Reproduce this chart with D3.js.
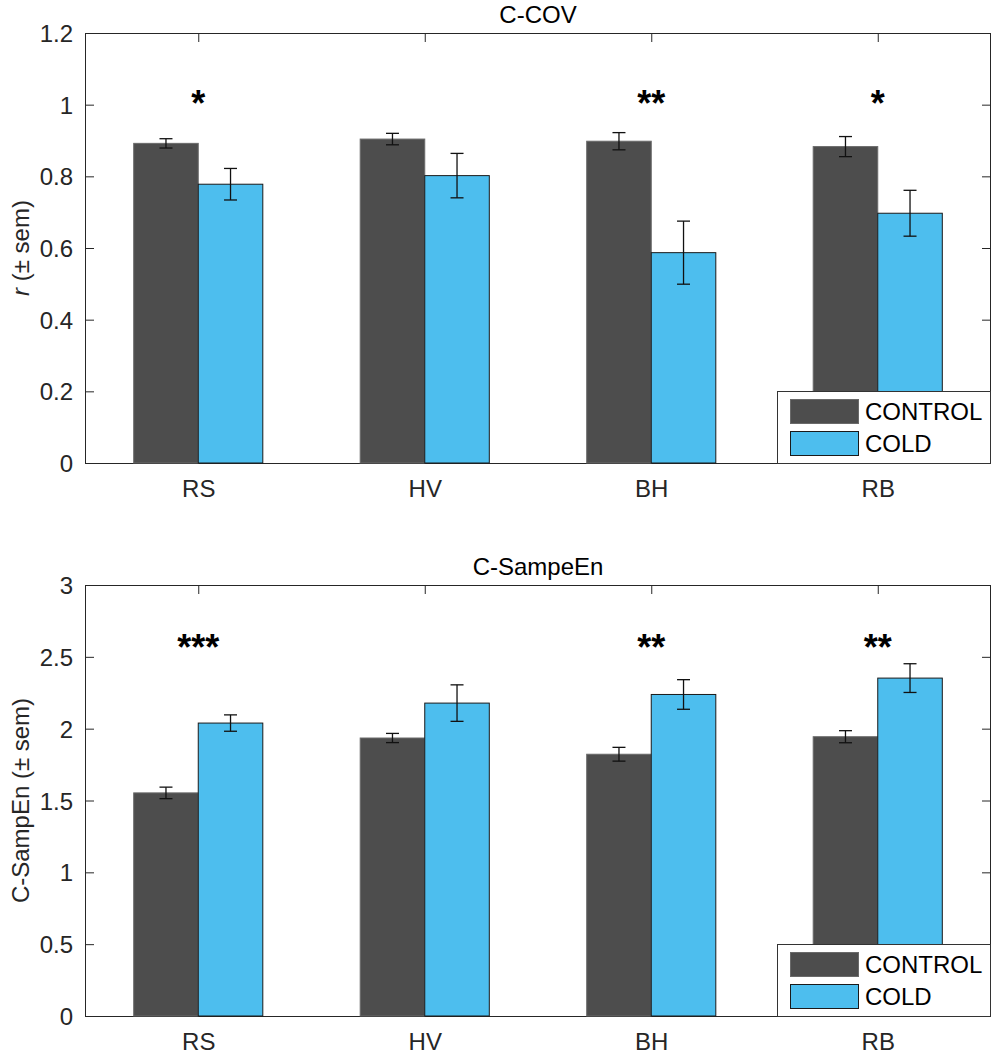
<!DOCTYPE html>
<html>
<head>
<meta charset="utf-8">
<script src="https://cdn.jsdelivr.net/npm/d3@7"></script>
<style>
  body { margin:0; background:#fff; }
  svg text { font-family:"Liberation Sans", Arial, Helvetica, sans-serif; }
</style>
</head>
<body>
<svg id="chart" width="994" height="1056"></svg>
<script>
// categories + series
var categories = ['RS','HV','BH','RB'];
var seriesNames = ['CONTROL','COLD'];

// C-COV panel
var covControl    = [0.892, 0.904, 0.898, 0.883];
var covControlSem = [0.013, 0.016, 0.024, 0.028];
var covCold       = [0.778, 0.802, 0.587, 0.697];
var covColdSem    = [0.044, 0.062, 0.088, 0.064];
var covStars      = ['*', '', '**', '*'];
var covTicks      = [0, 0.2, 0.4, 0.6, 0.8, 1, 1.2];

// C-SampEn panel
var sampControl    = [1.553, 1.935, 1.822, 1.944];
var sampControlSem = [0.040, 0.032, 0.048, 0.042];
var sampCold       = [2.039, 2.178, 2.238, 2.352];
var sampColdSem    = [0.057, 0.127, 0.103, 0.100];
var sampStars      = ['***', '', '**', '**'];
var sampTicks      = [0, 0.5, 1, 1.5, 2, 2.5, 3];

var colors = { ctrl:'#4d4d4d', ctrlEdge:'#6a6a6a', cold:'#4dbeee', coldEdge:'#1a1a1a', axis:'#262626' };
var svg = d3.select('#chart');
var left = 85, right = 991, barW = 0.285;

var x = d3.scaleLinear().domain([0.5, 4.5]).range([left, right]);

function panel(opt){
	var y = d3.scaleLinear().domain([0, opt.ticks[opt.ticks.length-1]]).range([opt.bottom, opt.top]);
	var g = svg.append('g');

	// axes (ticks inward, box on)
	var yl = g.append('g').attr('transform','translate('+left+',0)')
		.call(d3.axisLeft(y).tickValues(opt.ticks).tickSize(-9).tickPadding(12).tickFormat(d3.format('')));
	var yr = g.append('g').attr('transform','translate('+right+',0)')
		.call(d3.axisRight(y).tickValues(opt.ticks).tickSize(-9).tickFormat(''));
	var xt = g.append('g').attr('transform','translate(0,'+opt.top+')')
		.call(d3.axisTop(x).tickValues([1,2,3,4]).tickSize(-9).tickFormat(''));
	var xb = g.append('g').attr('transform','translate(0,'+opt.bottom+')')
		.call(d3.axisBottom(x).tickValues([1,2,3,4]).tickSize(-9).tickPadding(17)
			.tickFormat(function(d){ return categories[d-1]; }));
	[yl,yr,xt,xb].forEach(function(a){
		a.select('.domain').remove();
		a.selectAll('line').attr('stroke',colors.axis);
		a.selectAll('text').attr('fill',colors.axis).style('font-size','24px');
	});
	yl.selectAll('text').attr('dy','0.36em');
	xb.selectAll('text').attr('dy','0.71em');

	g.append('rect').attr('x',left+0.5).attr('y',opt.top+0.5)
		.attr('width',right-left-1).attr('height',opt.bottom-opt.top)
		.attr('fill','none').attr('stroke',colors.axis);

	// bars
	var rows = categories.map(function(c,i){
		return [
			{ x0:i+1-barW, v:opt.ctrl[i], e:opt.ctrlSem[i], fill:colors.ctrl, edge:colors.ctrlEdge },
			{ x0:i+1,      v:opt.cold[i], e:opt.coldSem[i], fill:colors.cold, edge:colors.coldEdge }
		];
	});
	var bars = d3.merge(rows);
	g.selectAll('rect.bar').data(bars).enter().append('rect')
		.attr('class','bar')
		.attr('x',function(d){ return x(d.x0); })
		.attr('y',function(d){ return y(d.v); })
		.attr('width',function(d){ return x(d.x0+barW)-x(d.x0); })
		.attr('height',function(d){ return y(0)-y(d.v); })
		.attr('fill',function(d){ return d.fill; })
		.attr('stroke',function(d){ return d.edge; })
		.attr('stroke-width',1);

	// error bars
	var eb = g.selectAll('g.err').data(bars).enter().append('g').attr('class','err')
		.attr('stroke','#111').attr('stroke-width',1.3);
	var cx = function(d){ return x(d.x0+barW/2); };
	eb.append('line').attr('x1',cx).attr('x2',cx)
		.attr('y1',function(d){ return y(d.v+d.e); }).attr('y2',function(d){ return y(d.v-d.e); });
	eb.append('line').attr('x1',function(d){ return cx(d)-6.5; }).attr('x2',function(d){ return cx(d)+6.5; })
		.attr('y1',function(d){ return y(d.v+d.e); }).attr('y2',function(d){ return y(d.v+d.e); });
	eb.append('line').attr('x1',function(d){ return cx(d)-6.5; }).attr('x2',function(d){ return cx(d)+6.5; })
		.attr('y1',function(d){ return y(d.v-d.e); }).attr('y2',function(d){ return y(d.v-d.e); });

	// significance stars
	g.selectAll('text.star').data(opt.stars).enter().append('text')
		.attr('class','star')
		.attr('x',function(d,i){ return x(i+1); })
		.attr('y',opt.starY)
		.attr('text-anchor','middle')
		.style('font-size','36px').style('font-weight','bold')
		.text(function(d){ return d; });

	// title
	g.append('text').attr('x',(left+right)/2).attr('y',opt.top-10)
		.attr('text-anchor','middle').style('font-size','24px').attr('fill','#000')
		.text(opt.title);

	// y label
	var yLab = g.append('text')
		.attr('transform','translate(29,'+((opt.top+opt.bottom)/2)+') rotate(-90)')
		.attr('text-anchor','middle').style('font-size','24px').attr('fill',colors.axis);
	opt.ylabel(yLab);

	// legend
	var lg = g.append('g').attr('transform','translate(777,'+(opt.bottom-72)+')');
	lg.append('rect').attr('x',0.5).attr('y',0.5).attr('width',213).attr('height',72)
		.attr('fill','#fff').attr('stroke','#333');
	var items = [ {name:seriesNames[0], fill:colors.ctrl, edge:colors.ctrlEdge},
	              {name:seriesNames[1], fill:colors.cold, edge:colors.coldEdge} ];
	var li = lg.selectAll('g.item').data(items).enter().append('g')
		.attr('transform',function(d,i){ return 'translate(0,'+(8+i*32)+')'; });
	li.append('rect').attr('x',13.5).attr('y',0.5).attr('width',68).attr('height',24)
		.attr('fill',function(d){ return d.fill; }).attr('stroke',function(d){ return d.edge; });
	li.append('text').attr('x',88).attr('y',21).style('font-size','24px').attr('fill','#000')
		.text(function(d){ return d.name; });
}

panel({
	top:33, bottom:463, ticks:covTicks, title:'C-COV',
	ctrl:covControl, ctrlSem:covControlSem, cold:covCold, coldSem:covColdSem,
	stars:covStars, starY:116,
	ylabel:function(t){
		t.append('tspan').style('font-style','italic').text('r');
		t.append('tspan').text(' (\u00b1 sem)');
	}
});

panel({
	top:585, bottom:1016, ticks:sampTicks, title:'C-SampeEn',
	ctrl:sampControl, ctrlSem:sampControlSem, cold:sampCold, coldSem:sampColdSem,
	stars:sampStars, starY:660,
	ylabel:function(t){ t.text('C-SampEn (\u00b1 sem)'); }
});
</script>
</body>
</html>
